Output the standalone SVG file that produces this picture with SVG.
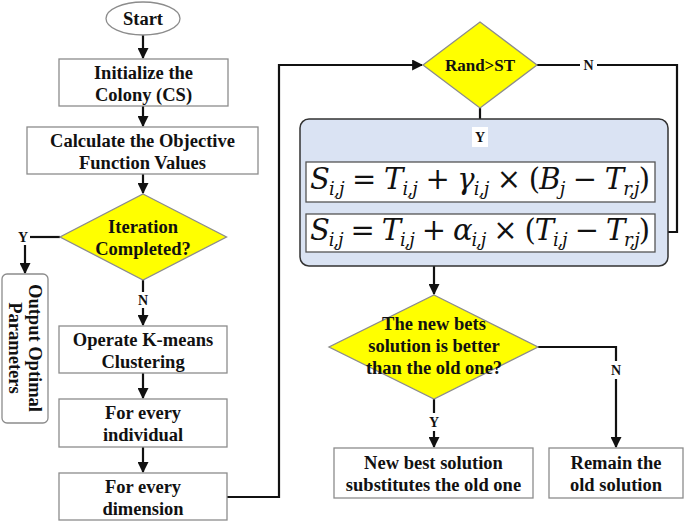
<svg xmlns="http://www.w3.org/2000/svg" width="685" height="522" viewBox="0 0 685 522">
<style>
.box{fill:#fff;stroke:#8c8c8c;stroke-width:1.3}
.dia{fill:#ffff00;stroke:#8c8c8c;stroke-width:1.3}
.t{font-family:"Liberation Serif","Times New Roman",serif;font-weight:bold;font-size:18.5px;fill:#111;text-anchor:middle}
.lbl{font-family:"Liberation Serif","Times New Roman",serif;font-weight:bold;font-size:14px;fill:#111;text-anchor:middle}
.ln{fill:none;stroke:#111;stroke-width:2.2}
.math{font-family:"DejaVu Serif","Liberation Serif",serif;font-size:29px;fill:#111}
.it{font-style:italic}
.sub{font-size:18px;font-style:italic}
</style>
<defs>
<marker id="ah" viewBox="0 0 10 10" refX="9" refY="5" markerWidth="11" markerHeight="11" orient="auto" markerUnits="userSpaceOnUse">
<path d="M0,0 L10,5 L0,10 z" fill="#111"/>
</marker>
</defs>
<rect width="685" height="522" fill="#fff"/>

<g id="connectors">
<path class="ln" d="M143,35 V58" marker-end="url(#ah)"/>
<path class="ln" d="M143,106 V126" marker-end="url(#ah)"/>
<path class="ln" d="M143,174 V193" marker-end="url(#ah)"/>
<path class="ln" d="M60,237 H30"/>
<path class="ln" d="M25,245 V273" marker-end="url(#ah)"/>
<path class="ln" d="M143,280 V292"/>
<path class="ln" d="M143,308 V325" marker-end="url(#ah)"/>
<path class="ln" d="M143,373 V398" marker-end="url(#ah)"/>
<path class="ln" d="M143,447 V472" marker-end="url(#ah)"/>
<path class="ln" d="M227,497 H279 V65 H422" marker-end="url(#ah)"/>
<path class="ln" d="M537,65 H580 M597,65 H677 V232 H656" marker-end="url(#ah)"/>
<path class="ln" d="M480,108 V161" marker-end="url(#ah)"/>
<path class="ln" d="M434,266 V294" marker-end="url(#ah)"/>
<path class="ln" d="M434,399 V413 M434,431 V447" marker-end="url(#ah)"/>
<path class="ln" d="M538,347 H616 V361 M616,379 V447" marker-end="url(#ah)"/>
</g>

<g id="start">
<ellipse cx="143" cy="18.5" rx="37" ry="16.5" class="box"/>
<text x="143" y="25" class="t">Start</text>
</g>

<g id="init">
<rect x="59" y="59" width="169" height="47" class="box"/>
<text x="143.5" y="79" class="t">Initialize the</text>
<text x="143.5" y="101" class="t">Colony (CS)</text>
</g>

<g id="calc">
<rect x="27" y="127" width="231" height="47" class="box"/>
<text x="142.5" y="147" class="t">Calculate the Objective</text>
<text x="142.5" y="169" class="t">Function Values</text>
</g>

<g id="iter">
<polygon points="143,194 226.5,237 143,280 60,237" class="dia"/>
<text x="143" y="233" class="t">Iteration</text>
<text x="143" y="255" class="t">Completed?</text>
<text x="23" y="242" class="lbl">Y</text>
<text x="143" y="305" class="lbl">N</text>
</g>

<g id="output">
<rect x="2" y="274" width="46" height="149" rx="5" class="box"/>
<g transform="translate(25,348) rotate(90)">
<text x="0" y="-4" class="t">Output Optimal</text>
<text x="0" y="16" class="t">Parameters</text>
</g>
</g>

<g id="kmeans">
<rect x="59" y="326" width="168" height="47" class="box"/>
<text x="143" y="346" class="t">Operate K-means</text>
<text x="143" y="368" class="t">Clustering</text>
</g>

<g id="individual">
<rect x="59" y="399" width="168" height="48" class="box"/>
<text x="143" y="419" class="t">For every</text>
<text x="143" y="441" class="t">individual</text>
</g>

<g id="dimension">
<rect x="59" y="473" width="168" height="47" class="box"/>
<text x="143" y="493" class="t">For every</text>
<text x="143" y="515" class="t">dimension</text>
</g>

<g id="rand">
<polygon points="480,22 537,65 480,108 423,65" class="dia"/>
<text x="480" y="71" class="t" style="font-size:17px">Rand&gt;ST</text>
<text x="588.5" y="70" class="lbl">N</text>
</g>

<g id="update">
<rect x="300" y="119" width="368" height="147" rx="9" fill="#dae3f3" stroke="#333" stroke-width="1.5"/>
<rect x="472" y="127" width="16" height="20" fill="#fff"/>
<text x="480" y="142" class="lbl">Y</text>
<rect x="306" y="162" width="349" height="40" fill="#fff" stroke="#555" stroke-width="1.3"/>
<text x="310" y="189" class="math" textLength="340" lengthAdjust="spacing"><tspan class="it">S</tspan><tspan class="sub" dy="6">i,j</tspan><tspan dy="-6"> = </tspan><tspan class="it">T</tspan><tspan class="sub" dy="6">i,j</tspan><tspan dy="-6"> + </tspan><tspan class="it">γ</tspan><tspan class="sub" dy="6">i,j</tspan><tspan dy="-6"> × (</tspan><tspan class="it">B</tspan><tspan class="sub" dy="6">j</tspan><tspan dy="-6"> − </tspan><tspan class="it">T</tspan><tspan class="sub" dy="6">r,j</tspan><tspan dy="-6">)</tspan></text>
<rect x="306" y="214" width="349" height="38" fill="#fff" stroke="#555" stroke-width="1.3"/>
<text x="310" y="240" class="math" textLength="340" lengthAdjust="spacing"><tspan class="it">S</tspan><tspan class="sub" dy="6">i,j</tspan><tspan dy="-6"> = </tspan><tspan class="it">T</tspan><tspan class="sub" dy="6">i,j</tspan><tspan dy="-6"> + </tspan><tspan class="it">α</tspan><tspan class="sub" dy="6">i,j</tspan><tspan dy="-6"> × (</tspan><tspan class="it">T</tspan><tspan class="sub" dy="6">i,j</tspan><tspan dy="-6"> − </tspan><tspan class="it">T</tspan><tspan class="sub" dy="6">r,j</tspan><tspan dy="-6">)</tspan></text>
</g>

<g id="better">
<polygon points="434,295 538,347 434,399 329,347" class="dia"/>
<text x="434" y="330" class="t">The new bets</text>
<text x="434" y="352" class="t">solution is better</text>
<text x="434" y="374" class="t">than the old one?</text>
<text x="434" y="427" class="lbl">Y</text>
<text x="616" y="375" class="lbl">N</text>
</g>

<g id="newbest">
<rect x="334" y="448" width="199" height="50" class="box"/>
<text x="433.5" y="469" class="t">New best solution</text>
<text x="433.5" y="491" class="t">substitutes the old one</text>
</g>

<g id="remain">
<rect x="549" y="448" width="134" height="50" class="box"/>
<text x="616" y="469" class="t">Remain the</text>
<text x="616" y="491" class="t">old solution</text>
</g>
</svg>
